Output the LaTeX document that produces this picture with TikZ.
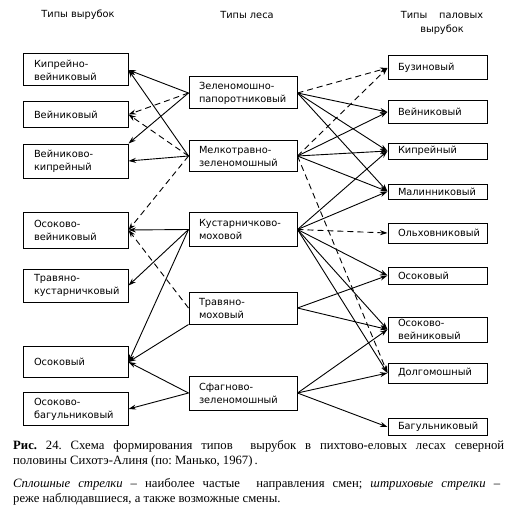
\documentclass[tikz,border=0pt]{standalone}
\usepackage{fontspec}
\setmainfont{Liberation Serif}
\newfontfamily\boxfont{DejaVu Sans}
\usetikzlibrary{arrows.meta}
\frenchspacing

\begin{document}
\begin{tikzpicture}[x=1pt,y=-1pt]
  \tikzset{type box/.style={draw,line width=1pt,rectangle,align=left,inner ysep=2pt,minimum height=#1,
      font=\boxfont\fontsize{9.8}{13}\selectfont},
    left box/.style={type box=#1,text width=83pt,inner xsep=11pt},
    mid box/.style={type box=#1,text width=88pt,inner xsep=10pt},
    right box/.style={type box=#1,text width=79pt,inner xsep=10pt},
    head/.style={font=\boxfont\fontsize{9.8}{14}\selectfont,align=center},
    often/.style={-{Stealth[length=7.5pt,width=5pt]},line width=0.9pt},
    rare/.style={often,dash pattern=on 6pt off 4pt}}
  \useasboundingbox (0,0) rectangle (507,508);

  % headers
  \node [head] (hL) at (78,15) {Типы вырубок};
  \node [head] (hM) at (247,15) {Типы леса};
  \node [head] (hR) at (442,23) {Типы\hspace{1.2em}паловых\\вырубок};

  % types of clearings
  \node [left box=32] (L1) at (75.5,70) {Кипрейно-\\вейниковый};
  \node [left box=25] (L2) at (75.5,114.5) {Вейниковый};
  \node [left box=34] (L3) at (75.5,161) {Вейниково-\\кипрейный};
  \node [left box=36] (L4) at (75.5,230) {Осоково-\\вейниковый};
  \node [left box=33] (L5) at (75.5,285.5) {Травяно-\\кустарничковый};
  \node [left box=31] (L6) at (75.5,362) {Осоковый};
  \node [left box=33] (L7) at (75.5,409) {Осоково-\\багульниковый};

  % types of forest
  \node [mid box=32] (M1) at (243,93) {Зеленомошно-\\папоротниковый};
  \node [mid box=31] (M2) at (243,156) {Мелкотравно-\\зеленомошный};
  \node [mid box=34] (M3) at (243,229.5) {Кустарничково-\\моховой};
  \node [mid box=32] (M4) at (243,308) {Травяно-\\моховый};
  \node [mid box=34] (M5) at (243,393) {Сфагново-\\зеленомошный};

  % types of burnt clearings
  \node [right box=24] (R1) at (437.5,68) {Бузиновый};
  \node [right box=22] (R2) at (437.5,112) {Вейниковый};
  \node [right box=16] (R3) at (437.5,151) {Кипрейный};
  \node [right box=15] (R4) at (437.5,191.5) {Малинниковый};
  \node [right box=20] (R5) at (437.5,233) {Ольховниковый};
  \node [right box=17] (R6) at (437.5,275.5) {Осоковый};
  \node [right box=25] (R7) at (437.5,329.5) {Осоково-\\вейниковый};
  \node [right box=20] (R8) at (437.5,373) {Долгомошный};
  \node [right box=17] (R9) at (437.5,427) {Багульниковый};

  % changes to the left
  \draw [often] (M1.west) -- (L1.east);
  \draw [rare] (M1.west) -- (L2.east);
  \draw [often] (M1.west) -- (L3.north east);
  \draw [often] (M2.west) -- (L1.east);
  \draw [rare] (M2.west) -- (L2.east);
  \draw [often] (M2.west) -- (L3.east);
  \draw [rare] (M2.west) -- (L4.east);
  \draw [often] (M3.west) -- (L4.east);
  \draw [often] (M3.west) -- (L5.east);
  \draw [often] (M3.west) -- (L6.east);
  \draw [rare] (M4.west) -- (L4.east);
  \draw [often] (M4.south west) -- (L6.east);
  \draw [often] (M5.west) -- (L6.east);
  \draw [often] (M5.west) -- (L7.east);

  % changes to the right
  \draw [rare] (M1.east) -- (R1.west);
  \draw [often] (M1.east) -- (R2.west);
  \draw [often] (M1.east) -- (R3.west);
  \draw [often] (M1.east) -- (R4.west);
  \draw [rare] (M2.east) -- (R1.west);
  \draw [often] (M2.east) -- (R2.west);
  \draw [often] (M2.east) -- (R3.west);
  \draw [often] (M2.east) -- (R4.west);
  \draw [rare] (M2.east) -- (R8.west);
  \draw [often] (M3.east) -- (R3.west);
  \draw [often] (M3.east) -- (R4.west);
  \draw [rare] (M3.east) -- (R5.west);
  \draw [often] (M3.east) -- (R6.west);
  \draw [often] (M3.east) -- (R7.west);
  \draw [often] (M3.east) -- (R8.west);
  \draw [often] (M4.east) -- (R6.west);
  \draw [often] (M4.east) -- (R7.west);
  \draw [often] (M5.east) -- (R7.west);
  \draw [often] (M5.east) -- (R8.west);
  \draw [often] (M5.east) -- (R9.west);

  % caption
  \begin{scope}[every node/.style={anchor=base west,inner sep=0pt,font=\fontsize{12.7}{14}\selectfont}]
    \node (cap1) at (13,449) {\makebox[491pt][s]{\textbf{Рис.} 24. Схема формирования типов\ \ вырубок в пихтово-еловых лесах северной}};
    \node (cap2) at (13,464) {половины Сихотэ-Алиня (по: Манько, 1967)\,.};
    \node (cap3) at (13,487) {\makebox[487pt][s]{\textit{Сплошные стрелки} – наиболее частые\ \ направления смен; \textit{штриховые стрелки} –}};
    \node (cap4) at (13,502) {реже наблюдавшиеся, а также возможные смены.};
  \end{scope}
\end{tikzpicture}
\end{document}
